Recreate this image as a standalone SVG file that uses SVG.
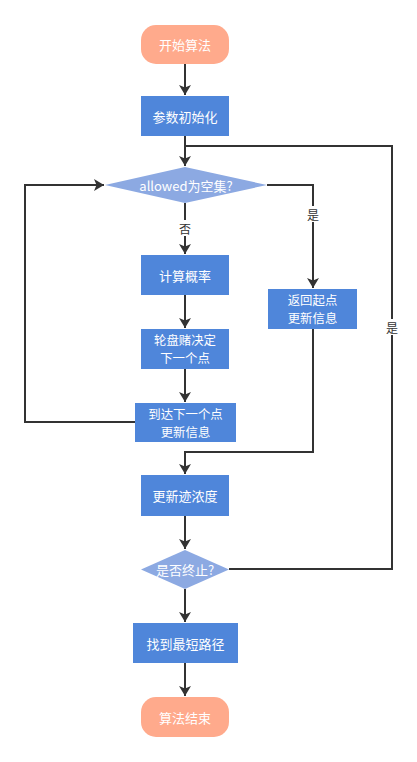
<svg xmlns="http://www.w3.org/2000/svg" width="417" height="762" viewBox="0 0 417 762">
<defs>
<marker id="arr" markerWidth="10" markerHeight="12" refX="10" refY="6" orient="auto" markerUnits="userSpaceOnUse">
<path d="M0,0 L10,6 L0,12 L2.5,6 Z" fill="#333333"/>
</marker>
</defs>
<style>
.term{fill:#ffaa8c;}
.proc{fill:#4f86da;}
.dec{fill:#8ca9e2;}
.t{font-family:"Noto Sans CJK SC","Microsoft YaHei",sans-serif;font-size:13px;fill:#ffffff;text-anchor:middle;dominant-baseline:central;}
.t2{font-family:"Noto Sans CJK SC","Microsoft YaHei",sans-serif;font-size:12.4px;fill:#ffffff;text-anchor:middle;dominant-baseline:central;}
.lbl{font-family:"Noto Sans CJK SC",sans-serif;font-size:12px;fill:#333333;text-anchor:middle;dominant-baseline:central;}
.c{fill:none;stroke:#333333;stroke-width:2;}
</style>
<rect width="417" height="762" fill="#ffffff"/>
<g id="connectors">
<path class="c" d="M185,64 L185,95" marker-end="url(#arr)"/>
<path class="c" d="M185,136 L185,166" marker-end="url(#arr)"/>
<path class="c" d="M185,203 L185,254" marker-end="url(#arr)"/>
<path class="c" d="M185,295 L185,328" marker-end="url(#arr)"/>
<path class="c" d="M185,369 L185,402" marker-end="url(#arr)"/>
<path class="c" d="M136,422 L25,422 L25,185 L104,185" marker-end="url(#arr)"/>
<path class="c" d="M267,185 L313,185 L313,288" marker-end="url(#arr)"/>
<path class="c" d="M313,329 L313,452 L185,452 L185,474" marker-end="url(#arr)"/>
<path class="c" d="M185,516 L185,549" marker-end="url(#arr)"/>
<path class="c" d="M229,569 L392,569 L392,146 L185,146"/>
<path class="c" d="M185,589 L185,622" marker-end="url(#arr)"/>
<path class="c" d="M185,663 L185,696" marker-end="url(#arr)"/>
<rect x="177" y="220" width="16" height="16" fill="#ffffff"/>
<text class="lbl" x="185" y="228">否</text>
<rect x="305" y="206" width="16" height="16" fill="#ffffff"/>
<text class="lbl" x="313" y="214">是</text>
<rect x="384" y="319" width="16" height="16" fill="#ffffff"/>
<text class="lbl" x="392" y="327">是</text>
</g>
<g id="start">
<rect class="term" x="141" y="25" width="88" height="39" rx="15" ry="15"/>
<text class="t" x="185" y="44.5">开始算法</text>
</g>
<g id="init">
<rect class="proc" x="141" y="96" width="88" height="40"/>
<text class="t" x="185" y="116">参数初始化</text>
</g>
<g id="allowed">
<polygon class="dec" points="185,167 267,185 185,203 105,185"/>
<text class="t" x="186" y="185">allowed为空集?</text>
</g>
<g id="prob">
<rect class="proc" x="141" y="255" width="88" height="40"/>
<text class="t" x="185" y="275">计算概率</text>
</g>
<g id="roulette">
<rect class="proc" x="141" y="329" width="88" height="40"/>
<text class="t2" x="185" y="340">轮盘赌决定</text>
<text class="t2" x="185" y="358">下一个点</text>
</g>
<g id="arrive">
<rect class="proc" x="135" y="403" width="101" height="39"/>
<text class="t2" x="185.5" y="413.5">到达下一个点</text>
<text class="t2" x="185.5" y="431.5">更新信息</text>
</g>
<g id="return">
<rect class="proc" x="268" y="289" width="89" height="40"/>
<text class="t2" x="312.5" y="300">返回起点</text>
<text class="t2" x="312.5" y="318">更新信息</text>
</g>
<g id="update">
<rect class="proc" x="141" y="475" width="88" height="41"/>
<text class="t" x="185" y="495.5">更新迹浓度</text>
</g>
<g id="stop">
<polygon class="dec" points="185,550 229,569.5 185,589 141,569.5"/>
<text class="t" x="185" y="569.5">是否终止?</text>
</g>
<g id="shortest">
<rect class="proc" x="133" y="623" width="105" height="40"/>
<text class="t" x="185.5" y="643">找到最短路径</text>
</g>
<g id="end">
<rect class="term" x="141" y="697" width="88" height="40" rx="15" ry="15"/>
<text class="t" x="185" y="717">算法结束</text>
</g>
</svg>
